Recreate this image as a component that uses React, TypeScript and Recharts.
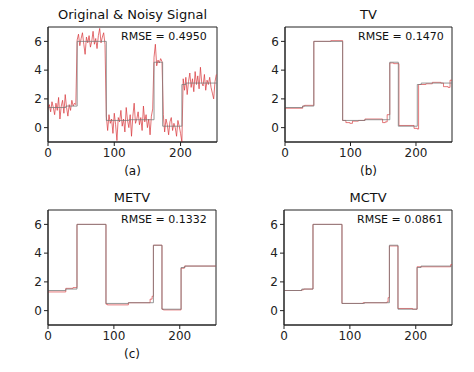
import React from "react";
import { LineChart, Line, XAxis, YAxis, ReferenceArea } from "recharts";

// noisy observation, one value every 2 samples (x = 0, 2, ... 254)
const noisyY = [
  1.3, 1.6, 1.1, 1.8, 1.4, 0.9, 1.7, 1.2, 2.1, 0.6, 1.5, 1.9, 1.0, 2.3, 1.4, 0.8, 1.6, 1.2, 1.9, 1.5, 1.7, 1.6,
  6.1, 6.5, 5.7, 6.2, 6.6, 5.8, 5.1, 6.3, 5.9, 6.4, 5.6, 6.0, 6.7, 5.8, 6.2, 5.5, 6.4, 6.9, 5.9, 6.3, 6.6, 5.8,
  0.8, -0.2, 0.9, 0.3, 0.6, -0.4, 1.0, 0.2, -0.9, 0.7, 0.4, 1.2, 0.1, 0.6, -0.3, 1.4, 0.5, 0.0, 0.9, -0.6, 0.8,
  1.7, 0.3, 0.6, 1.1, 0.2, 0.7, -0.2, 1.5, 0.4, 0.9, 0.0, 0.6, -0.5, 0.8, 1.3,
  4.9, 5.8, 4.3, 4.7, 4.5, 4.8, 4.6,
  0.9, -0.3, 0.6, 0.2, -0.5, 0.4, 0.7, -0.2, 0.3, 0.0, -0.6, 0.5, 0.1, -0.4, -1.0,
  3.4, 2.6, 3.5, 2.3, 3.2, 3.8, 2.8, 3.4, 2.5, 3.9, 3.0, 3.6, 2.7, 4.2, 3.1, 2.9, 3.7, 2.6, 3.3, 3.0, 3.5, 2.8,
  2.4, 2.0, 3.2, 3.7,
];

// clean piecewise-constant signal (step breakpoints)
const cleanX = [0, 27, 44, 88, 122, 160, 173, 202, 208, 255];
const cleanY = [1.4, 1.5, 6.0, 0.5, 0.55, 4.55, 0.1, 3.0, 3.1, 3.1];

const tvX = [0, 27, 30, 44, 70, 88, 93, 99, 103, 112, 122, 146, 149, 153, 156, 160, 166, 174, 194, 197, 202, 204, 215, 225, 238, 242, 249, 252, 255];
const tvY = [1.35, 1.5, 1.55, 6.0, 6.05, 0.5, 0.35, 0.3, 0.45, 0.5, 0.6, 0.6, 0.35, 0.4, 0.9, 4.5, 4.45, 0.15, 0.15, -0.05, -0.1, 3.0, 3.05, 3.15, 3.1, 2.85, 2.8, 3.3, 3.3];

const metvX = [0, 27, 38, 44, 88, 90, 122, 155, 158, 160, 173, 175, 202, 207, 255];
const metvY = [1.3, 1.55, 1.6, 6.0, 0.45, 0.4, 0.55, 0.8, 1.0, 4.55, 0.1, 0.05, 2.95, 3.1, 3.1];

const mctvX = [0, 27, 30, 44, 88, 120, 156, 158, 160, 173, 195, 202, 253, 255];
const mctvY = [1.4, 1.45, 1.5, 6.0, 0.5, 0.55, 0.6, 0.9, 4.5, 0.15, 0.1, 3.05, 3.2, 3.2];

const titles = ["Original & Noisy Signal", "TV", "METV", "MCTV"];
const captions = ["(a)", "(b)", "(c)", ""];
const rmse = ["0.4950", "0.1470", "0.1332", "0.0861"];
const xTicks = [0, 100, 200];
const yTicks = [0, 2, 4, 6];

const pts = (xs: number[], ys: number[]) => xs.map((x, i) => ({ x, y: ys[i] }));

const cleanData = pts(cleanX, cleanY);
const noisyData = noisyY.map((y, i) => ({ x: i * 2, y }));

const W = 237;
const H = 186;
const font = "'DejaVu Sans', sans-serif";

type PanelProps = {
  ox: number;
  oy: number;
  box: [number, number, number, number]; // left, top, right, bottom (page coords)
  title: string;
  caption: string;
  rmse: string;
  red: { x: number; y: number }[];
  step: boolean;
};

function Panel({ ox, oy, box, title, caption, rmse, red, step }: PanelProps) {
  const [L, T, R, B] = box;
  const margin = { left: L - ox - 40, top: T - oy, right: ox + W - R, bottom: oy + H - B - 30 };
  const cx = (L + R) / 2 - ox;
  return (
    <div style={{ position: "absolute", left: ox, top: oy, width: W, height: H }}>
      <div style={{ position: "absolute", left: cx - 100, width: 200, top: T - oy - 20, fontSize: 13, textAlign: "center", lineHeight: "15px", color: "#111" }}>
        {title}
      </div>
      <LineChart width={W} height={H} margin={margin}>
        <XAxis
          dataKey="x"
          type="number"
          domain={[0, 255]}
          ticks={xTicks}
          allowDataOverflow
          height={30}
          tickSize={4}
          tickMargin={2}
          tick={{ fontSize: 12, fill: "#222", fontFamily: font }}
          stroke="#222"
        />
        <YAxis
          type="number"
          domain={[-1, 7]}
          ticks={yTicks}
          allowDataOverflow
          width={40}
          tickSize={4}
          tickMargin={2}
          tick={{ fontSize: 12, fill: "#222", fontFamily: font }}
          stroke="#222"
        />
        <Line
          data={red}
          dataKey="y"
          type={step ? "stepAfter" : "linear"}
          stroke="#d8383c"
          strokeWidth={step ? 0.9 : 0.8}
          strokeOpacity={step ? 0.75 : 0.9}
          dot={false}
          isAnimationActive={false}
        />
        <Line
          data={cleanData}
          dataKey="y"
          type="stepAfter"
          stroke="#777"
          strokeWidth={0.9}
          strokeOpacity={0.85}
          dot={false}
          isAnimationActive={false}
        />
        <ReferenceArea x1={0} x2={255} y1={-1} y2={7} fill="none" stroke="#222" strokeWidth={1} />
      </LineChart>
      <div style={{ position: "absolute", left: L - ox + 73, top: T - oy + 3, fontSize: 11, lineHeight: "13px", color: "#111", whiteSpace: "nowrap" }}>
        RMSE = {rmse}
      </div>
      {caption && (
        <div style={{ position: "absolute", left: cx - 20, width: 40, top: B - oy + 22, fontSize: 12, textAlign: "center", lineHeight: "14px", color: "#111" }}>
          {caption}
        </div>
      )}
    </div>
  );
}

export default function App() {
  return (
    <div style={{ position: "relative", width: 474, height: 372, margin: -8, background: "#fff", fontFamily: font }}>
      <Panel ox={0} oy={0} box={[48, 27, 217, 142]} title={titles[0]} caption={captions[0]} rmse={rmse[0]} red={noisyData} step={false} />
      <Panel ox={237} oy={0} box={[285, 27, 452, 142]} title={titles[1]} caption={captions[1]} rmse={rmse[1]} red={pts(tvX, tvY)} step />
      <Panel ox={0} oy={186} box={[48, 210, 216, 325]} title={titles[2]} caption={captions[2]} rmse={rmse[2]} red={pts(metvX, metvY)} step />
      <Panel ox={237} oy={186} box={[284, 210, 452, 325]} title={titles[3]} caption={captions[3]} rmse={rmse[3]} red={pts(mctvX, mctvY)} step />
    </div>
  );
}
